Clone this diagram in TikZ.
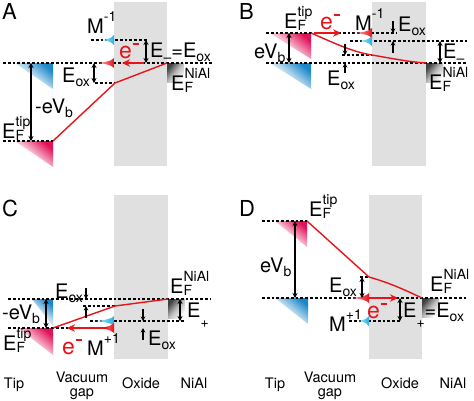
\documentclass[tikz,border=0pt]{standalone}
\usepackage{fontspec}
\setmainfont{TeX Gyre Heros}
\usetikzlibrary{arrows.meta}
\definecolor{potred}{HTML}{E8141C}
\definecolor{dosred}{HTML}{E2125A}
\definecolor{dosblue}{HTML}{1B87C9}
\definecolor{mcyan}{HTML}{20B4E8}
\definecolor{oxgray}{HTML}{E0E0E0}
\newcommand\Lsz{\fontsize{20}{22}\selectfont}
\newcommand\Ssz{\fontsize{14}{15}\selectfont}
\newcommand\sub[1]{\raisebox{-0.2em}{\Ssz #1}}
\newcommand\sps[1]{\raisebox{0.6em}{\Ssz #1}}
\newcommand\EFs[1]{E\rlap{\raisebox{-0.1em}{\Ssz F}}\sps{#1}}
\newcommand\Eox{E\sub{ox}}
\newcommand\elec{{\color{potred}\fontsize{23}{24}\selectfont e\hspace{1pt}\raisebox{13pt}{\rule{6.5pt}{1.8pt}}}}
% molecular level wedge: x0, y, colour, length
\newcommand\mw[4]{\shade[left color=#3!30, right color=#3] (#1,#2-5) .. controls (#1-3,#2-1.2) and (#1-#4+5,#2-0.3) .. (#1-#4,#2) .. controls (#1-#4+5,#2+0.3) and (#1-3,#2+1.2) .. (#1,#2+5) -- cycle;}
% DOS triangle: xleft, xright, ytop, ybottom, colour
\newcommand\dos[5]{\shade[top color=#5, bottom color=white, middle color=#5!28, shading angle=-40] (#1,#3) -- (#2,#3) -- (#2,#4) -- cycle;}
% metal DOS block: x, y
\newcommand\metal[2]{\shade[top color=black!75, bottom color=white, middle color=black!25, shading angle=50] (#1,#2) rectangle (#1+17,#2+19);}
\tikzset{
  lvl/.style={dash pattern=on 2.8pt off 2pt, line width=1.3pt},
  dbl/.style={{Stealth[length=5pt,width=5pt]}-{Stealth[length=5pt,width=5pt]}, line width=1.2pt},
  sarr/.style={-{Stealth[length=4.5pt,width=4.5pt]}, line width=1.1pt},
  pot/.style={draw=potred, line width=1.4pt},
  earr/.style={draw=potred, line width=1.8pt, -{Stealth[length=8pt,width=7.5pt]}},
  lab/.style={font=\Lsz, inner sep=0pt, anchor=base west},
  plab/.style={font=\fontsize{22}{24}\selectfont, inner sep=0pt, anchor=north west},
  blab/.style={font=\fontsize{14.5}{13.5}\selectfont, inner sep=0pt, anchor=base, align=center},
  ox/.style={fill=oxgray, draw=none},
}
\begin{document}
\begin{tikzpicture}[x=1pt,y=-1pt]
\useasboundingbox (0,0) rectangle (474,400);
\fill[white] (0,0) rectangle (474,400);
%% ---------------- Panel A
\fill[ox] (114,2) rectangle (167,166);
\dos{15}{53}{63}{89}{dosblue}
\dos{15}{53}{141}{167}{dosred}
\metal{167}{63}
\draw[lvl] (91,40) -- (147,40);
\draw[lvl] (3,63) -- (212,63);
\draw[lvl] (95,83) -- (115,83);
\draw[lvl] (3,141) -- (53,141);
\draw[pot] (53,141) -- (115,83) -- (167,63);
\mw{114}{40}{mcyan}{13}
\mw{114}{63}{potred}{17}
\draw[earr] (144,63) -- (122,63);
\draw[dbl] (31,63) -- (31,141);
\draw[dbl] (94,63) -- (94,83);
\draw[dbl] (146,40) -- (146,63);
\node[plab] (lA) at (2,3) {A};
\node[lab] (mA) at (87,33) {M\sps{-1}};
\node[lab] (eA) at (119,58) {\elec};
\node[lab] (emA) at (150,57) {E\raisebox{-0.25em}{\Ssz --}=\Eox};
\node[lab] (oxA) at (62,82) {\Eox};
\node[lab] (vA) at (35,113) {-eV\sub{b}};
\node[lab] (tA) at (2,138) {\EFs{tip}};
\node[lab] (nA) at (171,90) {\EFs{NiAl}};
%% ---------------- Panel B
\fill[ox] (372,2) rectangle (426,166);
\dos{270}{311}{33}{59}{dosred}
\dos{270}{311}{63}{89}{dosblue}
\metal{426}{63}
\draw[lvl] (266,33) -- (397,33);
\draw[lvl] (350,41) -- (467,41);
\draw[lvl] (342,55) -- (372,55);
\draw[lvl] (266,63) -- (467,63);
\draw[pot] (311,33) .. controls (332,42) and (352,52) .. (372,55) .. controls (395,59) and (410,62) .. (426,63);
\mw{372}{33}{potred}{18}
\mw{372}{41}{mcyan}{14}
\draw[earr] (314,33) -- (341,33);
\draw[dbl] (289,33) -- (289,63);
\draw[sarr] (345,44) -- (345,55);
\draw[sarr] (345,73) -- (345,63);
\draw[sarr] (393,21) -- (393,33);
\draw[sarr] (393,53) -- (393,41);
\draw[dbl] (440,41) -- (440,63);
\node[plab] (lB) at (239,3) {B};
\node[lab] (tB) at (284,28) {\EFs{tip}};
\node[lab] (eB) at (320,29) {\elec};
\node[lab] (mB) at (355,30) {M\sps{-1}};
\node[lab] (oxB1) at (398,31) {\Eox};
\node[lab] (vB) at (254,58) {eV\sub{b}};
\node[lab] (oxB2) at (327,85) {\Eox};
\node[lab] (emB) at (443,58) {E\raisebox{-0.25em}{\Ssz --}};
\node[lab] (nB) at (429,89) {\EFs{NiAl}};
%% ---------------- Panel C
\fill[ox] (114,195) rectangle (168,359);
\dos{32}{53}{299}{326}{dosblue}
\dos{18}{53}{328}{355}{dosred}
\metal{168}{299}
\draw[lvl] (8,299) -- (211,299);
\draw[lvl] (83,306) -- (115,306);
\draw[lvl] (90,321) -- (185,321);
\draw[lvl] (8,328) -- (113,328);
\draw[pot] (53,328) -- (115,306) -- (168,299);
\mw{114}{321}{mcyan}{20}
\mw{114}{328}{potred}{18}
\draw[earr] (108,328) -- (67,328);
\draw[dbl] (46,299) -- (46,328);
\draw[sarr] (86,288) -- (86,299);
\draw[sarr] (86,318) -- (86,306);
\draw[sarr] (143,309) -- (143,321);
\draw[sarr] (143,340) -- (143,328);
\draw[dbl] (180,299) -- (180,321);
\node[plab] (lC) at (2,200) {C};
\node[lab] (oxC1) at (55,298) {\Eox};
\node[lab] (nC) at (170,293) {\EFs{NiAl}};
\node[lab] (vC) at (2,319) {-eV\sub{b}};
\node[lab] (epC) at (187,317) {E\raisebox{-0.5em}{\Ssz +}};
\node[lab] (tC) at (3,350) {\EFs{tip}};
\node[lab] (eC) at (62,354) {\elec};
\node[lab] (mC) at (87,355) {M\sps{+1}};
\node[lab] (oxC2) at (148,345) {\Eox};
\node[blab] (b1C) at (14,388) {Tip};
\node[blab] (b2C) at (82,396) {Vacuum\\gap};
\node[blab] (b4C) at (141,388) {Oxide};
\node[blab] (b5C) at (194,388) {NiAl};
%% ---------------- Panel D
\fill[ox] (369,195) rectangle (422,359);
\dos{275}{307}{221}{247}{dosred}
\dos{275}{308}{298}{324}{dosblue}
\metal{422}{298}
\draw[lvl] (262,221) -- (307,221);
\draw[lvl] (360,277) -- (369,277);
\draw[lvl] (262,298) -- (467,298);
\draw[lvl] (349,321) -- (400,321);
\draw[pot] (307,221) -- (369,277) .. controls (390,283) and (405,290) .. (422,298);
\mw{369}{298}{potred}{19}
\mw{369}{321}{mcyan}{12}
\draw[earr] (369,298) -- (398,298);
\draw[dbl] (295,221) -- (295,298);
\draw[dbl] (362,277) -- (362,298);
\draw[dbl] (400,298) -- (400,321);
\node[plab] (lD) at (239,200) {D};
\node[lab] (tD) at (309,216) {\EFs{tip}};
\node[lab] (vD) at (260,272) {eV\sub{b}};
\node[lab] (oxD) at (329,292) {\Eox};
\node[lab] (nD) at (430,291) {\EFs{NiAl}};
\node[lab] (eD) at (367,318) {\elec};
\node[lab] (mD) at (329,331) {M\sps{+1}};
\node[lab] (epD) at (403,317) {E\raisebox{-0.5em}{\Ssz +}=\Eox};
\node[blab] (b1D) at (275,388) {Tip};
\node[blab] (b2D) at (330,396) {Vacuum\\gap};
\node[blab] (b4D) at (400,388) {Oxide};
\node[blab] (b5D) at (453,388) {NiAl};
\end{tikzpicture}
\end{document}
